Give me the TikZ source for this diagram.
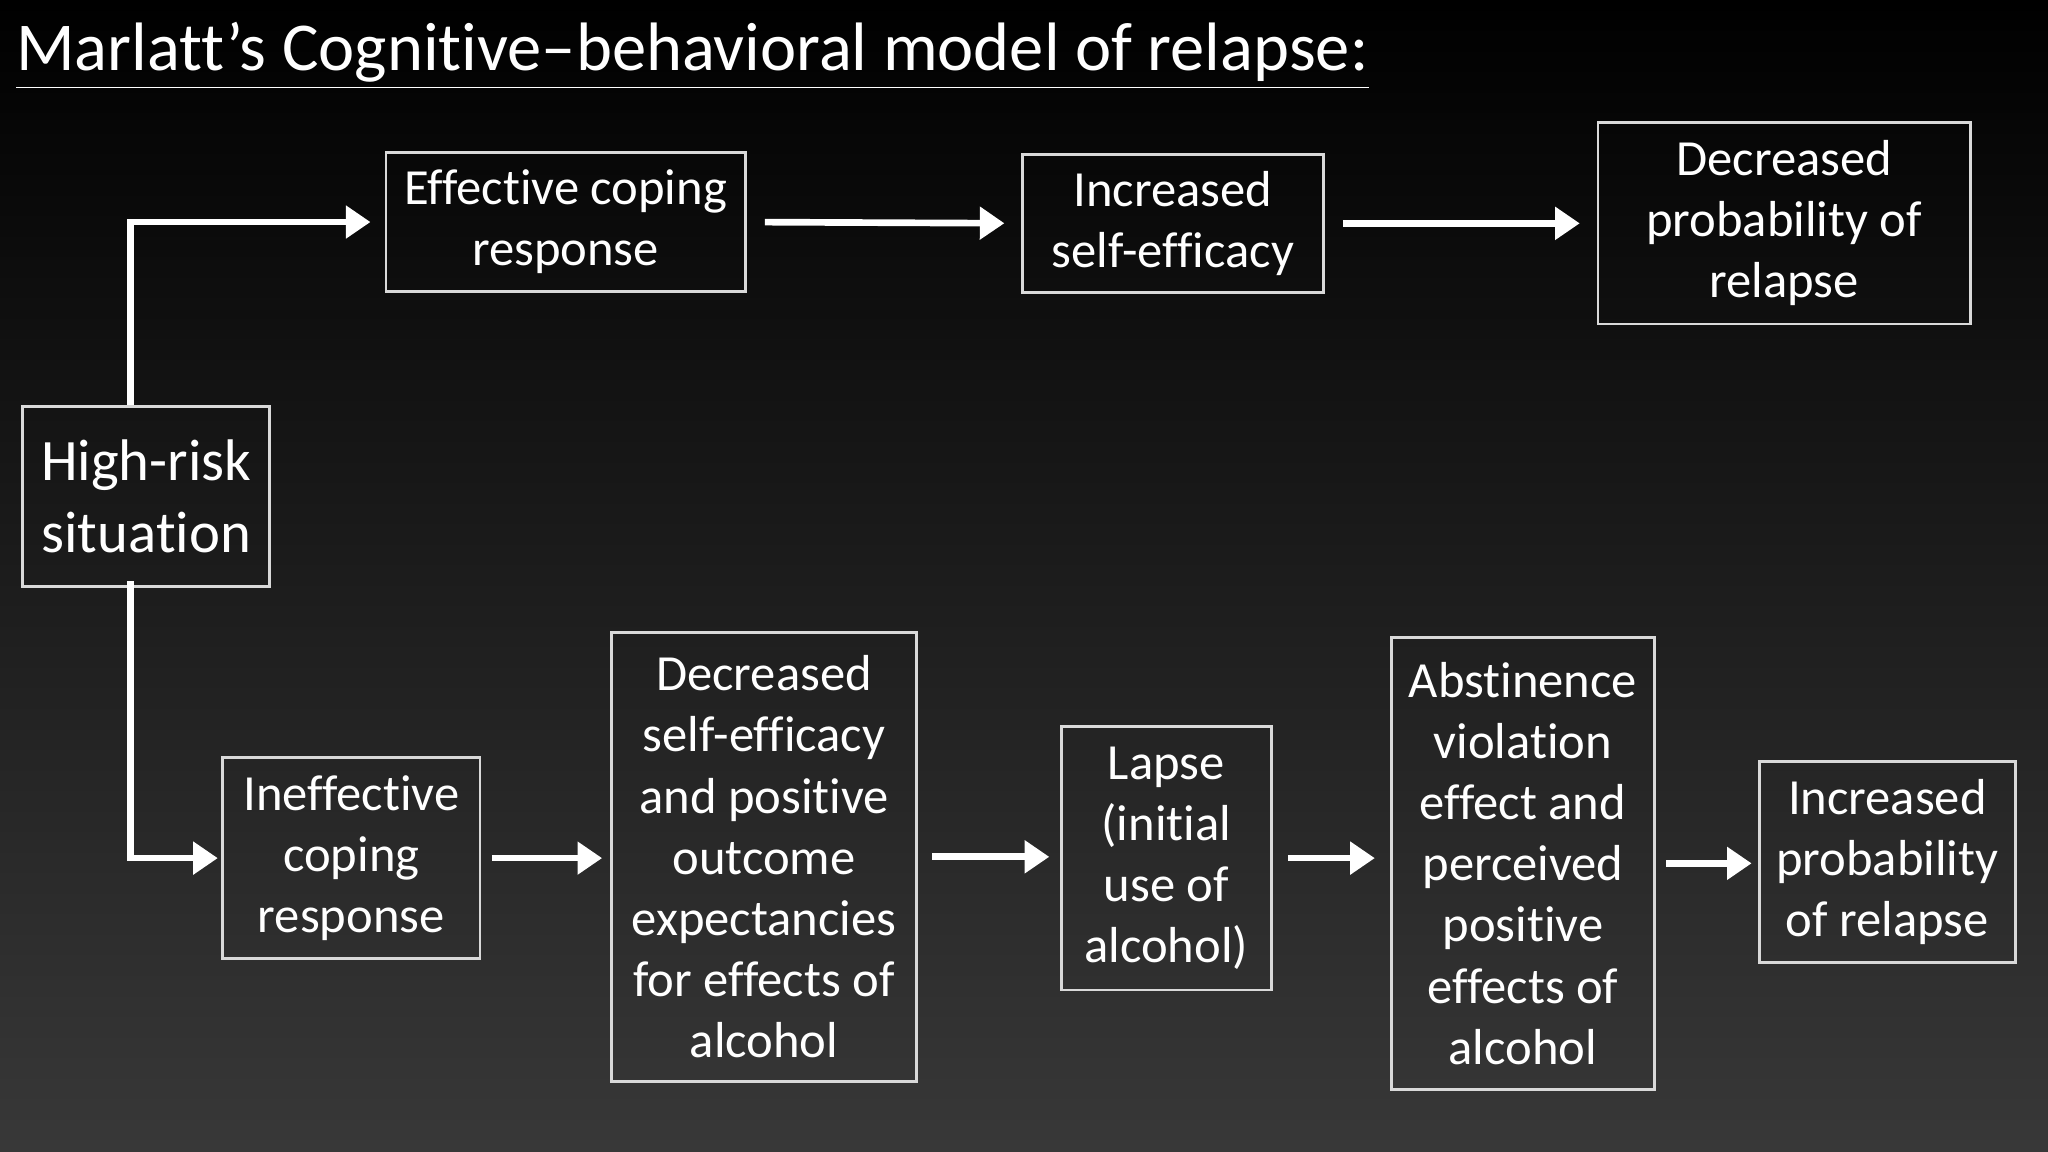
\documentclass[tikz,border=0pt]{standalone}
\usepackage{fontspec}
\setmainfont[Ligatures={NoCommon}]{Carlito}
\usetikzlibrary{calc,arrows.meta}
\tikzset{
  box/.style={draw=white!85!black, line width=0.8pt, text=white, align=center,
    inner sep=2pt, font=\fontsize{14.4}{17.4}\selectfont},
  flow/.style={white, line width=1.9pt, -{Triangle[length=7pt,width=9pt]}}
}
\begin{document}
\begin{tikzpicture}[x=0.01306cm, y=-0.01306cm]
  \shade[top color=black, bottom color=black!78!white] (0,0) rectangle (1568,882);
  \useasboundingbox (0,0) rectangle (1568,882);

  \node[anchor=base west, text=white, inner sep=0pt, font=\fontsize{19.5}{22}\selectfont]
    (title) at (12,54) {\underline{Marlatt’s Cognitive–behavioral model of relapse:}};

  % upper path
  \node[box, minimum width=189*0.01306cm, minimum height=138*0.01306cm,
    font=\fontsize{16.7}{20.3}\selectfont] (hr) at (112,380) {High-risk\\situation};
  \node[box, minimum width=275*0.01306cm, minimum height=106*0.01306cm] (ec) at (433,170) {Effective coping\\response};
  \node[box, minimum width=230*0.01306cm, minimum height=106*0.01306cm] (ise) at (898,171) {Increased\\self-efficacy};
  \node[box, minimum width=285*0.01306cm, minimum height=154*0.01306cm] (dp) at (1366,171) {Decreased\\probability of\\relapse};

  % lower path
  \node[box, minimum width=197*0.01306cm, minimum height=154*0.01306cm] (ic) at (269,657) {Ineffective\\coping\\response};
  \node[box, minimum width=234*0.01306cm, minimum height=344*0.01306cm] (dse) at (585,656) {Decreased\\self-efficacy\\and positive\\outcome\\expectancies\\for effects of\\alcohol};
  \node[box, minimum width=161*0.01306cm, minimum height=202*0.01306cm] (lapse) at (893,657) {Lapse\\(initial\\use of\\alcohol)};
  \node[box, minimum width=201*0.01306cm, minimum height=346*0.01306cm] (ave) at (1166,661) {Abstinence\\violation\\effect and\\perceived\\positive\\effects of\\alcohol};
  \node[box, minimum width=196*0.01306cm, minimum height=154*0.01306cm] (ip) at (1445,660) {Increased\\probability\\of relapse};

  \draw[flow, shorten >=4pt] ($(hr.north)+(-12,0)$) |- (ec.west);
  \draw[flow, shorten >=1pt] ($(hr.south)+(-12,-5)$) |- (ic.west);
  \draw[flow, shorten <=5.2pt, shorten >=4.8pt] (ec.east) -- (ise.west);
  \draw[flow, shorten <=5.2pt, shorten >=4.8pt] (ise.east) -- (ise.east -| dp.west);
  \draw[flow, shorten <=3pt, shorten >=2.2pt] (ic.east) -- (ic.east -| dse.west);
  \draw[flow, shorten <=4pt, shorten >=3pt] (dse.east) -- (dse.east -| lapse.west);
  \draw[flow, shorten <=4.4pt, shorten >=4.4pt] (lapse.east) -- (lapse.east -| ave.west);
  \draw[flow, shorten <=3pt, shorten >=1.8pt] (ave.east) -- (ave.east -| ip.west);
\end{tikzpicture}
\end{document}
